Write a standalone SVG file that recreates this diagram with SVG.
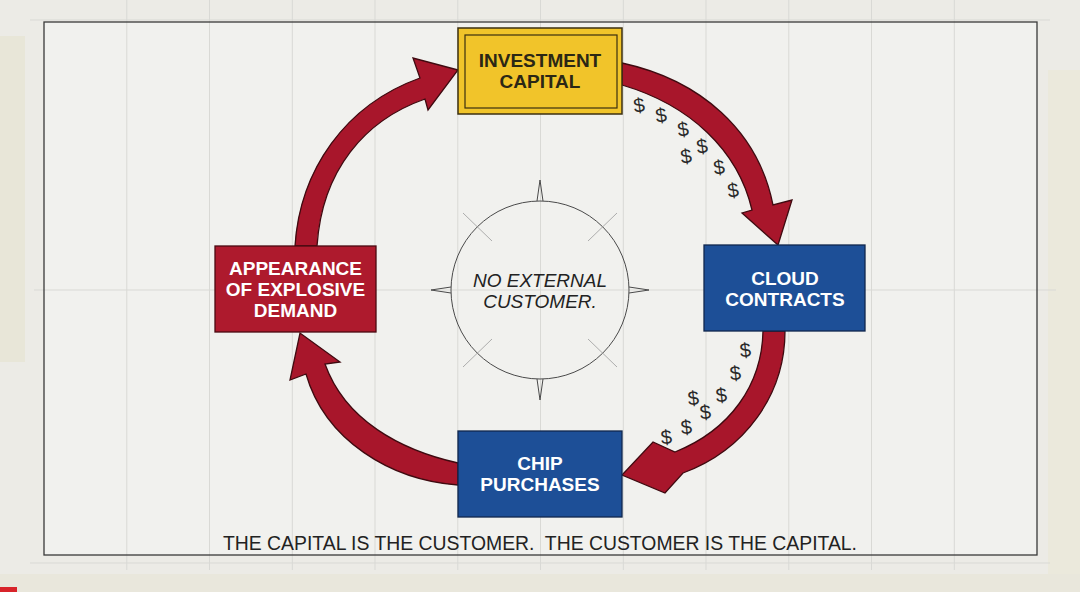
<svg xmlns="http://www.w3.org/2000/svg" width="1080" height="592" viewBox="0 0 1080 592">
<defs>
<style>
.grid{stroke:#d9d9d5;stroke-width:1;fill:none}
.frame{stroke:#3a3a3a;stroke-width:1.3;fill:none}
.arrow{fill:#a8162b;stroke:#3f0a10;stroke-width:1.3;stroke-linejoin:miter}
.lbl{font-family:"Liberation Sans",Arial,sans-serif;font-weight:bold;font-size:19px;text-anchor:middle}
.dollar{font-family:"Liberation Sans",Arial,sans-serif;font-size:20px;fill:#2a2a2a;text-anchor:middle}
.comp{stroke:#4a4a4a;stroke-width:1;fill:none}
.tick{stroke:#a5a5a5;stroke-width:0.9;fill:none}
</style>
</defs>
<rect x="0" y="0" width="1080" height="592" fill="#ecebe6"/>
<rect x="0" y="36" width="25" height="326" fill="#e8e6d8"/>
<rect x="1048" y="70" width="32" height="522" fill="#ebe9dc"/>
<rect x="0" y="574" width="1080" height="18" fill="#e9e7dc"/>
<rect x="0" y="587" width="17" height="5" fill="#d8242a"/>
<rect x="44" y="22" width="993" height="533" fill="#f1f1ee"/>
<g id="grid">
<path class="grid" d="M126.8 0V570M209.5 0V570M292.3 0V570M375 0V570M457.8 0V570M540.5 0V570M623.3 0V570M706 0V570M788.8 0V570M871.5 0V570M954.3 0V570"/>
<path class="grid" d="M34 290H1056M30 20H1050M30 563H1050"/>
</g>
<rect id="frame" class="frame" x="44" y="22" width="993" height="533"/>
<g id="compass">
<circle class="comp" cx="540" cy="290" r="89"/>
<path class="comp" d="M537 201L540 180L543 201M537 379L540 400L543 379M451 287L431 290L451 293M629 287L649 290L629 293"/>
<path class="tick" d="M463 213L492 241M617 213L588 241M463 367L492 339M617 367L588 339"/>
<text x="540" y="287" font-family="Liberation Sans,Arial,sans-serif" font-style="italic" font-size="19" fill="#222" text-anchor="middle">NO EXTERNAL</text>
<text x="540" y="308" font-family="Liberation Sans,Arial,sans-serif" font-style="italic" font-size="19" fill="#222" text-anchor="middle">CUSTOMER.</text>
</g>
<g id="connectors">
<path class="arrow" d="M622 63C700 80 758 130 773 205L792 200L778 245L742 213L752 210C738 150 690 105 622 85Z"/>
<path class="arrow" d="M763 331C762 385 730 430 675 452L653 442L622 475L665 493L683 473C745 450 785 395 785 331Z"/>
<path class="arrow" d="M458 463C400 450 345 420 325 364L340 362L300 333L290 380L306 374C325 440 390 480 458 485Z"/>
<path class="arrow" d="M295 246C300 170 345 105 420 78L413 58L458 70L428 110L425 99C365 120 322 170 317 246Z"/>
<g id="dollars1">
<text class="dollar" transform="translate(640,112) rotate(-8)">$</text>
<text class="dollar" transform="translate(662,122) rotate(-8)">$</text>
<text class="dollar" transform="translate(684,136) rotate(-8)">$</text>
<text class="dollar" transform="translate(703,153) rotate(-8)">$</text>
<text class="dollar" transform="translate(687,163) rotate(-8)">$</text>
<text class="dollar" transform="translate(720,174) rotate(-8)">$</text>
<text class="dollar" transform="translate(734,197) rotate(-8)">$</text>
</g>
<g id="dollars2">
<text class="dollar" transform="translate(746,357) rotate(-6)">$</text>
<text class="dollar" transform="translate(736,380) rotate(-6)">$</text>
<text class="dollar" transform="translate(722,402) rotate(-6)">$</text>
<text class="dollar" transform="translate(694,405) rotate(-6)">$</text>
<text class="dollar" transform="translate(706,419) rotate(-6)">$</text>
<text class="dollar" transform="translate(687,434) rotate(-6)">$</text>
<text class="dollar" transform="translate(667,444) rotate(-6)">$</text>
</g>
</g>
<g id="investment">
<rect x="458" y="28" width="164" height="86" fill="#f1c42a" stroke="#3b2f10" stroke-width="1.5"/>
<rect x="465" y="35" width="152" height="73" fill="none" stroke="#3b2f10" stroke-width="1.2"/>
<text class="lbl" x="540" y="67" fill="#2b2715">INVESTMENT</text>
<text class="lbl" x="540" y="88" fill="#2b2715">CAPITAL</text>
</g>
<g id="cloud">
<rect x="704" y="245" width="161" height="86" fill="#1d4f97" stroke="#10274d" stroke-width="1.3"/>
<text class="lbl" x="785" y="285" fill="#fff">CLOUD</text>
<text class="lbl" x="785" y="306" fill="#fff">CONTRACTS</text>
</g>
<g id="chip">
<rect x="458" y="431" width="164" height="86" fill="#1d4f97" stroke="#10274d" stroke-width="1.3"/>
<text class="lbl" x="540" y="470" fill="#fff">CHIP</text>
<text class="lbl" x="540" y="491" fill="#fff">PURCHASES</text>
</g>
<g id="appearance">
<rect x="215" y="246" width="161" height="86" fill="#ae1a2d" stroke="#4a0a12" stroke-width="1.3"/>
<text class="lbl" x="295.5" y="275" fill="#fff">APPEARANCE</text>
<text class="lbl" x="295.5" y="296" fill="#fff">OF EXPLOSIVE</text>
<text class="lbl" x="295.5" y="317" fill="#fff">DEMAND</text>
</g>
<text id="caption" x="223" y="550" font-family="Liberation Sans,Arial,sans-serif" font-size="20.5" fill="#222" textLength="634" lengthAdjust="spacingAndGlyphs" style="white-space:pre">THE CAPITAL IS THE CUSTOMER.  THE CUSTOMER IS THE CAPITAL.</text>
</svg>
